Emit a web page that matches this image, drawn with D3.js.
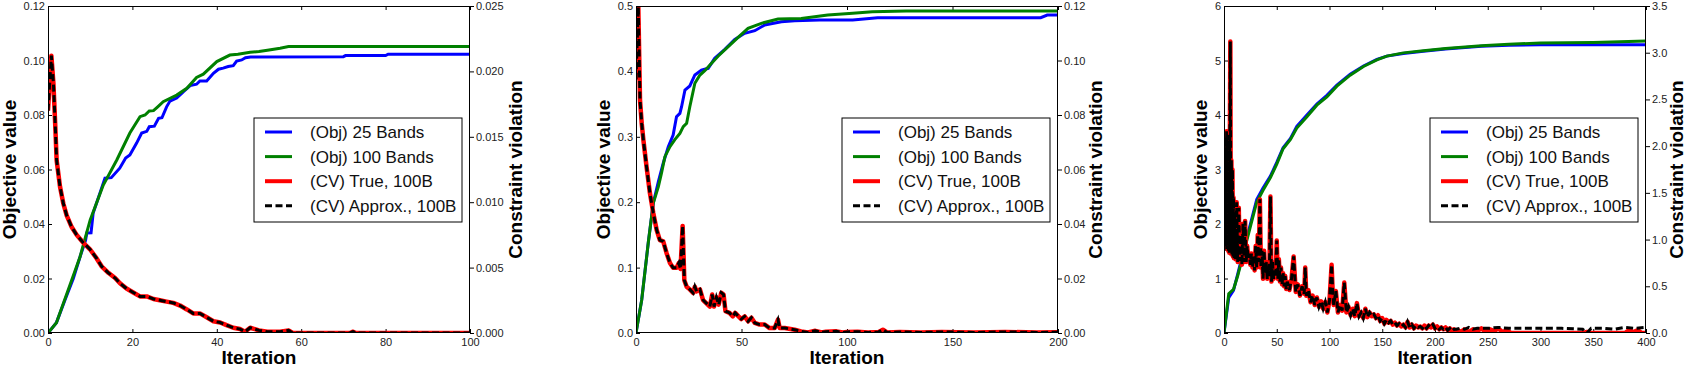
<!DOCTYPE html>
<html>
<head>
<meta charset="utf-8">
<script src="https://cdn.jsdelivr.net/npm/d3@7"></script>
<style>
  body { margin: 0; background: #fff; }
  svg { display: block; font-family: "Liberation Sans", Arial, sans-serif; }
</style>
</head>
<body>
<div id="chart"></div>
<script>
// ---- data: [iteration, value] ----
const legendLabels = ["(Obj) 25 Bands", "(Obj) 100 Bands", "(CV) True, 100B", "(CV) Approx., 100B"];

// panel 1 (100 iterations)
const p1XTicks = [0, 20, 40, 60, 80, 100];
const p1LeftTicks = [0, 0.02, 0.04, 0.06, 0.08, 0.10, 0.12];
const p1RightTicks = [0, 0.005, 0.010, 0.015, 0.020, 0.025];
const p1Obj25 = [[0,0],[2,0.0038],[4,0.012],[6,0.020],[7.6,0.028],[8.9,0.034],[9.2,0.0367],[10.2,0.0368],[10.7,0.044],[12.3,0.0513],[13.5,0.0568],[15,0.057],[17,0.0605],[18.4,0.0642],[19.4,0.0653],[21,0.0697],[22.2,0.0734],[23.4,0.074],[24,0.0757],[25.2,0.0759],[26.2,0.0788],[27,0.079],[28.1,0.083],[28.9,0.0851],[30.5,0.0862],[32.1,0.0886],[33.7,0.0908],[35.2,0.0913],[36,0.0925],[37.6,0.0925],[39.2,0.0953],[40.4,0.0968],[41.5,0.0972],[42.7,0.0978],[43.9,0.0981],[44.7,0.0998],[45.9,0.1002],[46.8,0.1010],[48,0.1013],[70,0.1014],[70.5,0.1018],[80,0.1018],[80.6,0.1023],[100,0.1023]];
const p1Obj100 = [[0,0],[2,0.0038],[7.6,0.028],[10,0.0415],[13.1,0.0543],[16.3,0.0635],[19.4,0.0734],[21.8,0.0794],[23,0.080],[24,0.0815],[25,0.0816],[26,0.083],[27.3,0.0849],[30.5,0.0873],[32.9,0.0898],[35.2,0.0938],[36.8,0.0950],[40,0.0996],[43.1,0.1020],[45,0.1023],[47.9,0.1030],[50,0.1033],[52,0.1038],[55,0.1045],[57,0.1051],[100,0.1051]];
const p1CvTrue = [[0,0.0170],[0.8,0.0212],[1.3,0.0190],[1.7,0.0160],[2.05,0.0132],[2.84,0.0112],[3.63,0.0099],[4.42,0.0090],[5.61,0.0081],[6.79,0.0075],[8.37,0.0069],[9.95,0.0064],[11.53,0.0057],[12.7,0.0051],[14.3,0.0046],[15.9,0.0042],[17.06,0.0038],[18.6,0.0034],[20.2,0.0031],[21.8,0.0028],[23.4,0.0028],[25,0.0026],[26.5,0.0025],[28.1,0.0024],[29.7,0.0023],[31.3,0.0021],[32.9,0.0018],[34.4,0.0015],[36,0.0015],[37.6,0.0012],[39.2,0.0009],[40.8,0.0008],[42.3,0.0006],[43.9,0.0004],[45.5,0.0003],[46.7,0.0001],[47.9,0.0004],[50,0.0002],[52,0.0001],[55,0.0001],[57,0.0002],[58,0],[71.5,0],[72.3,0.0001],[73,0],[100,0]];
const p1CvApprox = p1CvTrue; // the two curves coincide here

// panel 2 (200 iterations)
const p2XTicks = [0, 50, 100, 150, 200];
const p2LeftTicks = [0, 0.1, 0.2, 0.3, 0.4, 0.5];
const p2RightTicks = [0, 0.02, 0.04, 0.06, 0.08, 0.10, 0.12];
const p2Obj25 = [[0,0],[2.7,0.0505],[5.8,0.1376],[8.2,0.1988],[10.6,0.2313],[12.9,0.2596],[15.3,0.2849],[17.6,0.3028],[19.2,0.3307],[20.8,0.3358],[21.6,0.346],[23.2,0.3716],[25.5,0.3777],[27.9,0.3945],[31,0.4021],[34.2,0.4047],[37.3,0.42],[42.1,0.4338],[46.8,0.449],[51.5,0.4582],[56.3,0.4622],[61,0.471],[68.9,0.476],[75.2,0.4775],[87,0.4786],[102.7,0.4786],[114.5,0.4821],[191.8,0.4821],[194.9,0.4862],[200,0.4862]];
const p2Obj100 = [[0,0],[2.7,0.0505],[5.8,0.1376],[8.2,0.1988],[10.6,0.2237],[12.1,0.2446],[13.7,0.2696],[16.1,0.2849],[18.4,0.2956],[20.8,0.3053],[22.4,0.3155],[24,0.3206],[25.5,0.346],[27.9,0.3818],[30.3,0.3945],[32.6,0.401],[35.8,0.4124],[39,0.4235],[43.7,0.4378],[48.4,0.4521],[53.1,0.4659],[59.4,0.4735],[67.3,0.480],[78.3,0.4808],[90.9,0.4862],[102.7,0.4888],[112,0.4913],[128,0.4924],[200,0.4924]];
const p2CvTrue = [[0,0.093],[1.1,0.1197],[1.9,0.0855],[2.7,0.077],[3.5,0.0708],[5,0.061],[6.6,0.0513],[8.2,0.044],[9.8,0.0378],[11.3,0.0341],[12.9,0.0336],[14.5,0.0293],[16.1,0.0257],[17.6,0.0239],[19.2,0.0239],[20.3,0.0257],[21.1,0.0235],[22.1,0.0393],[22.9,0.0194],[24,0.017],[25.5,0.016],[27.1,0.0147],[27.9,0.017],[28.7,0.0153],[30.3,0.016],[31.8,0.0121],[33.4,0.0109],[35,0.0097],[36.1,0.0141],[37,0.0097],[38.1,0.0131],[39.2,0.0104],[40.4,0.0148],[41.5,0.0141],[42.4,0.008],[44.3,0.0074],[45.9,0.0061],[47,0.0074],[48.6,0.0061],[49.9,0.0051],[51.5,0.0061],[53.1,0.0043],[54.7,0.0056],[56.3,0.0037],[58.6,0.0031],[61,0.0031],[63.3,0.0018],[65.7,0.0018],[67.3,0.0049],[68.1,0.0018],[70.5,0.0018],[75.2,0.0012],[78.3,0.0006],[81.5,0.0002],[85,0.0008],[88,0.0002],[90,0.0005],[95,0.0006],[98,0.0002],[100,0.0004],[105,0.0005],[110,0.0002],[115,0.0004],[117,0.0012],[119,0.0002],[125,0.0004],[135,0.0002],[145,0.0004],[160,0.0002],[175,0.0004],[190,0.0002],[200,0.0003]];
const p2CvApprox = p2CvTrue;

// panel 3 (400 iterations)
const p3XTicks = [0, 50, 100, 150, 200, 250, 300, 350, 400];
const p3LeftTicks = [0, 1, 2, 3, 4, 5, 6];
const p3RightTicks = [0, 0.5, 1.0, 1.5, 2.0, 2.5, 3.0, 3.5];
const p3Obj25 = [[0,0],[4.5,0.65],[9,0.78],[13,1.08],[19,1.55],[25,2.0],[31,2.45],[37,2.66],[44,2.88],[50,3.13],[56,3.4],[63,3.57],[69,3.79],[78.6,4.0],[88,4.2],[97.5,4.36],[107,4.55],[119.6,4.75],[132.2,4.9],[144.9,5.02],[154.3,5.08],[170,5.13],[189,5.17],[210,5.21],[244,5.26],[270,5.28],[300,5.29],[350,5.29],[400,5.29]];
const p3Obj100 = [[0,0],[4.5,0.72],[9,0.8],[13,1.05],[19,1.5],[25,1.95],[31,2.4],[37,2.62],[44,2.85],[50,3.1],[56,3.38],[63,3.55],[69,3.76],[78.6,3.97],[88,4.18],[97.5,4.33],[107,4.53],[119.6,4.73],[132.2,4.89],[144.9,5.01],[154.3,5.08],[170,5.14],[189,5.18],[210,5.22],[244,5.27],[270,5.30],[300,5.32],[350,5.33],[400,5.36]];
const p3CvTrue = [[0,0.88],[0.5,1.9],[1,0.95],[1.5,2.10],[2,0.93],[2.5,2.16],[3,0.90],[3.5,2.12],[4,0.88],[4.5,1.95],[5,0.86],[5.5,1.87],[6,3.12],[6.5,0.85],[7,1.85],[7.5,0.84],[8,1.75],[8.5,0.82],[9,1.45],[9.5,0.80],[10,1.28],[11,0.79],[12,1.40],[13,0.76],[14,1.34],[15,0.77],[16,1.05],[17,0.73],[18,1.17],[19,0.76],[20,1.20],[21,0.76],[22,0.93],[23,0.79],[24,0.85],[25,0.73],[26,0.85],[27,0.70],[28,0.82],[29,0.67],[30,0.93],[31,0.70],[32,1.05],[33,0.76],[34,1.43],[35,0.70],[36,0.88],[37,0.58],[38,0.88],[39,0.64],[40,0.76],[41,0.58],[42,0.70],[43,0.61],[44,1.46],[45,0.55],[46,0.76],[47,0.58],[48,0.67],[49,0.61],[50,0.99],[51,0.58],[52,0.79],[53,0.55],[54,0.70],[55,0.52],[56,0.64],[57,0.50],[58,0.61],[59,0.47],[60,0.55],[62,0.46],[64,0.58],[66,0.82],[68,0.44],[70,0.52],[72,0.40],[74,0.50],[76,0.42],[77,0.70],[78,0.40],[80,0.46],[82,0.33],[84,0.40],[86,0.30],[88,0.38],[90,0.28],[92,0.34],[94,0.26],[96,0.33],[98,0.22],[100,0.35],[102,0.73],[103,0.45],[104,0.30],[106,0.45],[108,0.22],[110,0.30],[112,0.24],[114,0.54],[116,0.22],[118,0.28],[120,0.19],[122,0.26],[124,0.18],[126,0.32],[128,0.18],[130,0.22],[132,0.16],[134,0.26],[136,0.17],[138,0.22],[140,0.18],[142,0.20],[144,0.16],[146,0.19],[148,0.13],[150,0.16],[152,0.10],[154,0.14],[156,0.11],[158,0.13],[160,0.09],[162,0.11],[164,0.08],[166,0.10],[168,0.07],[170,0.09],[172,0.06],[174,0.12],[176,0.06],[178,0.09],[180,0.05],[182,0.08],[184,0.06],[186,0.07],[188,0.05],[190,0.08],[192,0.05],[194,0.08],[196,0.06],[198,0.09],[200,0.05],[202,0.07],[204,0.04],[206,0.06],[208,0.04],[210,0.06],[212,0.03],[214,0.05],[216,0.02],[218,0.04],[220,0.00],[222,0.03],[224,0.01],[228,0.04],[232,0.01],[236,0.04],[240,0.02],[244,0.05],[248,0.01],[252,0.04],[256,0.02],[260,0.05],[264,0.01],[268,0.03],[272,0.00],[340,0.00],[344,0.01],[348,0.00],[380,0.00],[384,0.03],[388,0.01],[392,0.03],[396,0.00],[400,0.00]];
const p3CvApproxTail = [[220,0.04],[224,0.05],[228,0.04],[232,0.06],[236,0.04],[240,0.05],[250,0.05],[260,0.06],[270,0.05],[280,0.05],[300,0.05],[320,0.05],[340,0.04],[344,0.0],[348,0.05],[360,0.05],[370,0.04],[380,0.06],[390,0.05],[400,0.06]];
const p3CvApprox = p3CvTrue.filter(d => d[0] < 220).concat(p3CvApproxTail);

// ---- layout ----
const W = 1686, H = 368;
const plotTop = 6, plotBottom = 333, plotWidth = 422;
const plotLefts = [48, 636, 1224];
const yLabelOffsets = [-32, -26.5, -17.5];
const y2LabelOffsets = [52, 44, 37];
const colors = ["#0000ff", "#008000", "#ff0000", "#000000"];

const panels = [
  { xMax: 100, leftMax: 0.12, rightMax: 0.025, xTicks: p1XTicks, leftTicks: p1LeftTicks, rightTicks: p1RightTicks, leftFmt: ".2f", rightFmt: ".3f", obj25: p1Obj25, obj100: p1Obj100, cvTrue: p1CvTrue, cvApprox: p1CvApprox },
  { xMax: 200, leftMax: 0.5, rightMax: 0.12, xTicks: p2XTicks, leftTicks: p2LeftTicks, rightTicks: p2RightTicks, leftFmt: ".1f", rightFmt: ".2f", obj25: p2Obj25, obj100: p2Obj100, cvTrue: p2CvTrue, cvApprox: p2CvApprox },
  { xMax: 400, leftMax: 6, rightMax: 3.5, xTicks: p3XTicks, leftTicks: p3LeftTicks, rightTicks: p3RightTicks, leftFmt: "d", rightFmt: ".1f", obj25: p3Obj25, obj100: p3Obj100, cvTrue: p3CvTrue, cvApprox: p3CvApprox }
];

const svg = d3.select("#chart").append("svg")
  .attr("width", W)
  .attr("height", H);

const styleAxis = g => {
  g.attr("font-family", "Liberation Sans, Arial, sans-serif").attr("font-size", 11);
  g.select(".domain").remove();
  g.selectAll(".tick line").attr("stroke", "#000");
  g.selectAll(".tick text").attr("fill", "#222");
};

panels.forEach((p, i) => {
  const x0 = plotLefts[i], x1 = x0 + plotWidth;
  const x = d3.scaleLinear().domain([0, p.xMax]).range([x0, x1]);
  const yL = d3.scaleLinear().domain([0, p.leftMax]).range([plotBottom, plotTop]);
  const yR = d3.scaleLinear().domain([0, p.rightMax]).range([plotBottom, plotTop]);
  const g = svg.append("g");

  const clipId = "clip" + i;
  svg.append("clipPath").attr("id", clipId)
    .append("rect")
    .attr("x", x0).attr("y", plotTop)
    .attr("width", plotWidth).attr("height", plotBottom - plotTop);

  // axes
  g.append("g").attr("transform", `translate(0,${plotBottom})`)
    .call(d3.axisBottom(x).tickValues(p.xTicks).tickSizeInner(-4).tickSizeOuter(0).tickPadding(5))
    .call(styleAxis);
  g.append("g").attr("transform", `translate(0,${plotTop})`)
    .call(d3.axisTop(x).tickValues(p.xTicks).tickSizeInner(-4).tickSizeOuter(0).tickFormat(""))
    .call(styleAxis);
  g.append("g").attr("transform", `translate(${x0},0)`)
    .call(d3.axisLeft(yL).tickValues(p.leftTicks).tickFormat(d3.format(p.leftFmt)).tickSizeInner(-4).tickSizeOuter(0).tickPadding(3))
    .call(styleAxis);
  g.append("g").attr("transform", `translate(${x1},0)`)
    .call(d3.axisRight(yR).tickValues(p.rightTicks).tickFormat(d3.format(p.rightFmt)).tickSizeInner(4).tickSizeOuter(0).tickPadding(2))
    .call(styleAxis);

  // lines
  const lineL = d3.line().x(d => x(d[0])).y(d => yL(d[1]));
  const lineR = d3.line().x(d => x(d[0])).y(d => yR(d[1]));
  const lines = g.append("g").attr("clip-path", `url(#${clipId})`).attr("fill", "none");
  lines.append("path").datum(p.obj25).attr("d", lineL).attr("stroke", colors[0]).attr("stroke-width", 3);
  lines.append("path").datum(p.obj100).attr("d", lineL).attr("stroke", colors[1]).attr("stroke-width", 3);
  lines.append("path").datum(p.cvTrue).attr("d", lineR).attr("stroke", colors[2]).attr("stroke-width", 4.5).attr("stroke-linejoin", "round");
  lines.append("path").datum(p.cvApprox).attr("d", lineR).attr("stroke", colors[3]).attr("stroke-width", 3).attr("stroke-dasharray", "7,3.5");

  // frame
  g.append("rect")
    .attr("x", x0 + 0.5).attr("y", plotTop + 0.5)
    .attr("width", plotWidth - 1).attr("height", plotBottom - plotTop - 1)
    .attr("fill", "none").attr("stroke", "#000").attr("stroke-width", 1);

  // axis titles
  const yMid = (plotTop + plotBottom) / 2;
  g.append("text")
    .attr("transform", `translate(${x0 + yLabelOffsets[i]},${yMid}) rotate(-90)`)
    .attr("text-anchor", "middle").attr("font-weight", "bold").attr("font-size", 19)
    .text("Objective value");
  g.append("text")
    .attr("transform", `translate(${x1 + y2LabelOffsets[i]},${yMid}) rotate(-90)`)
    .attr("text-anchor", "middle").attr("font-weight", "bold").attr("font-size", 19)
    .text("Constraint violation");
  g.append("text")
    .attr("x", (x0 + x1) / 2).attr("y", 364)
    .attr("text-anchor", "middle").attr("font-weight", "bold").attr("font-size", 19)
    .text("Iteration");

  // legend
  const lgW = 208, lgH = 104;
  const lg = g.append("g").attr("transform", `translate(${x1 - 8 - lgW},118)`);
  lg.append("rect").attr("width", lgW).attr("height", lgH)
    .attr("fill", "#fff").attr("stroke", "#000").attr("stroke-width", 1);
  legendLabels.forEach((lab, k) => {
    const cy = 14 + k * 24.6;
    lg.append("line")
      .attr("x1", 11).attr("x2", 38).attr("y1", cy).attr("y2", cy)
      .attr("stroke", colors[k]).attr("stroke-width", k === 2 ? 4 : 3)
      .attr("stroke-dasharray", k === 3 ? "7,3.5" : null);
    lg.append("text")
      .attr("x", 56).attr("y", cy + 6)
      .attr("font-size", 17).attr("fill", "#111")
      .text(lab);
  });
});
</script>
</body>
</html>
